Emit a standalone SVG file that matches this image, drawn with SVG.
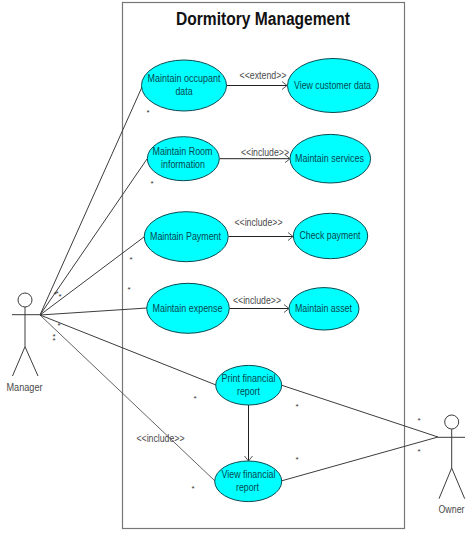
<svg xmlns="http://www.w3.org/2000/svg" width="474" height="533" viewBox="0 0 474 533">
<style>
text{font-family:"Liberation Sans",Arial,sans-serif;text-anchor:middle}
.uc{fill:#00ffff;stroke:#0a4a50;stroke-width:1}
.ut{font-size:10px;fill:#004850}
.lb{font-size:10px;fill:#4a4a4a}
.st{font-size:8px;fill:#333}
.ln{fill:none;stroke:#3c3c3c;stroke-width:1}
.ar{fill:none;stroke:#222;stroke-width:1;marker-end:url(#open)}
.bd{fill:#fff;stroke:#777;stroke-width:1.2}
</style>
<defs>
<marker id="open" markerWidth="8" markerHeight="10" refX="6" refY="5" orient="auto" markerUnits="userSpaceOnUse">
<path d="M1,1 L6,5 L1,9" fill="none" stroke="#444" stroke-width="0.9"/>
</marker>
</defs>
<g id="boundary">
<rect class="bd" x="122.5" y="2.5" width="282" height="526"/>
<text x="263" y="25" font-size="18" font-weight="700" fill="#111" textLength="174" lengthAdjust="spacingAndGlyphs">Dormitory Management</text>
</g>
<g id="connectors">
<line class="ln" x1="40" y1="315" x2="142" y2="87"/>
<line class="ln" x1="40" y1="315" x2="147" y2="159"/>
<line class="ln" x1="40" y1="315" x2="144" y2="237"/>
<line class="ln" x1="40" y1="315" x2="147" y2="308"/>
<line class="ln" x1="40" y1="315" x2="216" y2="385"/>
<line class="ln" x1="40" y1="315" x2="215" y2="481" stroke-opacity="0.8"/>
<line class="ln" x1="438" y1="437" x2="281" y2="385"/>
<line class="ln" x1="438" y1="437" x2="281" y2="481"/>
<line class="ar" x1="226.5" y1="85.5" x2="287" y2="85.5"/>
<line class="ar" x1="219.5" y1="158.7" x2="290" y2="158.7"/>
<line class="ar" x1="228.5" y1="236.5" x2="293" y2="236.5"/>
<line class="ar" x1="229.5" y1="308.5" x2="289" y2="308.5"/>
<line class="ar" x1="248.5" y1="405" x2="248.5" y2="461"/>
<text class="lb" x="263" y="79" textLength="47" lengthAdjust="spacingAndGlyphs">&lt;&lt;extend&gt;&gt;</text>
<text class="lb" x="265" y="156" textLength="48" lengthAdjust="spacingAndGlyphs">&lt;&lt;include&gt;&gt;</text>
<text class="lb" x="258.5" y="226" textLength="48" lengthAdjust="spacingAndGlyphs">&lt;&lt;include&gt;&gt;</text>
<text class="lb" x="257" y="304" textLength="48" lengthAdjust="spacingAndGlyphs">&lt;&lt;include&gt;&gt;</text>
<text class="lb" x="160.5" y="441.5" textLength="48" lengthAdjust="spacingAndGlyphs">&lt;&lt;include&gt;&gt;</text>
<text class="st" x="148" y="114.5">*</text>
<text class="st" x="152" y="185.5">*</text>
<text class="st" x="131" y="261.5">*</text>
<text class="st" x="129" y="291.5">*</text>
<text class="st" x="55" y="296.5">*</text>
<text class="st" x="57" y="295.5">*</text>
<text class="st" x="60" y="298.5">*</text>
<text class="st" x="59" y="327.5">*</text>
<text class="st" x="54" y="338.5">*<tspan x="54" y="342.5">*</tspan></text>
<text class="st" x="195" y="400.5">*</text>
<text class="st" x="297" y="408.5">*</text>
<text class="st" x="419" y="422.5">*</text>
<text class="st" x="297" y="461.5">*</text>
<text class="st" x="419" y="453.5">*</text>
<text class="st" x="193" y="490.5">*</text>
</g>
<g id="uc-occupant"><ellipse class="uc" cx="184" cy="85.5" rx="42.5" ry="25.5"/><text class="ut" x="184" y="82" textLength="73" lengthAdjust="spacingAndGlyphs">Maintain occupant</text><text class="ut" x="184" y="95" textLength="17" lengthAdjust="spacingAndGlyphs">data</text></g>
<g id="uc-customer"><ellipse class="uc" cx="333" cy="85.5" rx="45.5" ry="27"/><text class="ut" x="332.500" y="88.5" textLength="77" lengthAdjust="spacingAndGlyphs">View customer data</text></g>
<g id="uc-room"><ellipse class="uc" cx="183.3" cy="158.7" rx="36" ry="22"/><text class="ut" x="182.500" y="155" textLength="60" lengthAdjust="spacingAndGlyphs">Maintain Room</text><text class="ut" x="183" y="168" textLength="44" lengthAdjust="spacingAndGlyphs">information</text></g>
<g id="uc-services"><ellipse class="uc" cx="330.3" cy="158.7" rx="40.3" ry="24.3"/><text class="ut" x="329.5" y="161.5" textLength="69" lengthAdjust="spacingAndGlyphs">Maintain services</text></g>
<g id="uc-payment"><ellipse class="uc" cx="186.2" cy="236.7" rx="42" ry="25"/><text class="ut" x="185.5" y="239.5" textLength="71" lengthAdjust="spacingAndGlyphs">Maintain Payment</text></g>
<g id="uc-check"><ellipse class="uc" cx="330.5" cy="236" rx="37.2" ry="22.7"/><text class="ut" x="330" y="239" textLength="61" lengthAdjust="spacingAndGlyphs">Check payment</text></g>
<g id="uc-expense"><ellipse class="uc" cx="188" cy="308.3" rx="41.3" ry="25"/><text class="ut" x="187.5" y="311.5" textLength="70" lengthAdjust="spacingAndGlyphs">Maintain expense</text></g>
<g id="uc-asset"><ellipse class="uc" cx="324" cy="308.8" rx="35" ry="21.2"/><text class="ut" x="323.500" y="311.5" textLength="57" lengthAdjust="spacingAndGlyphs">Maintain asset</text></g>
<g id="uc-print"><ellipse class="uc" cx="248.7" cy="385.2" rx="33" ry="19.8"/><text class="ut" x="248.5" y="381.5" textLength="54" lengthAdjust="spacingAndGlyphs">Print financial</text><text class="ut" x="248.5" y="394.5" textLength="23" lengthAdjust="spacingAndGlyphs">report</text></g>
<g id="uc-view"><ellipse class="uc" cx="248.2" cy="481.3" rx="33.5" ry="20.3"/><text class="ut" x="248.5" y="478" textLength="54" lengthAdjust="spacingAndGlyphs">View financial</text><text class="ut" x="247.500" y="491" textLength="23" lengthAdjust="spacingAndGlyphs">report</text></g>
<g id="actor-manager">
<circle class="ln" cx="25" cy="300" r="7"/>
<path class="ln" d="M25,307V346.7M12,314.7H42M25,346.7L12.5,376M25,346.7L38,376"/>
<text class="lb" x="24.5" y="391" textLength="36" lengthAdjust="spacingAndGlyphs">Manager</text>
</g>
<g id="actor-owner">
<circle class="ln" cx="451.7" cy="422" r="7"/>
<path class="ln" d="M451.7,429V468M438,437.3H465M451.7,468L439,498.7M451.7,468L464.7,498.7"/>
<text class="lb" x="451.500" y="513" textLength="26" lengthAdjust="spacingAndGlyphs">Owner</text>
</g>
</svg>
